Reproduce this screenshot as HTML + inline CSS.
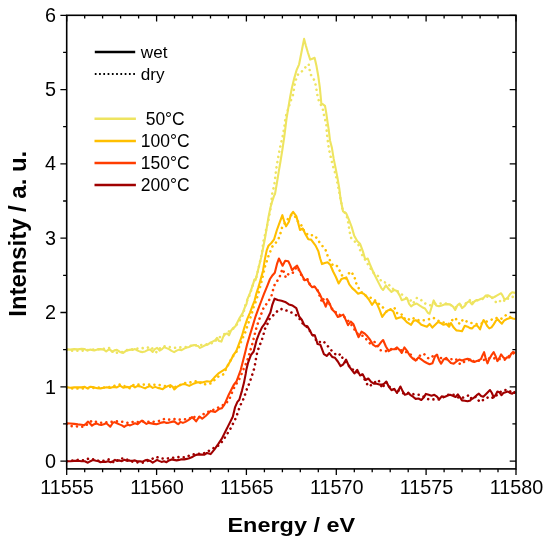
<!DOCTYPE html>
<html><head><meta charset="utf-8"><title>Energy / eV</title>
<style>html,body{margin:0;padding:0;background:#fff;width:550px;height:540px;overflow:hidden}svg{display:block}</style></head>
<body>
<svg width="550" height="540" viewBox="0 0 550 540">
<rect width="550" height="540" fill="#fff"/>
<polyline points="67.1,349.4 70.3,349.6 74.1,349.1 77.9,349.4 81.6,348.9 84.8,349.1 87.3,350.6 90.4,349.6 94.2,350.4 97.4,349.4 100.5,349.1 103.7,349.6 106.2,351.4 109.3,349.1 112.5,351.9 114.4,350.4 116.9,349.9 120.0,351.9 123.2,352.9 126.3,350.6 129.5,349.9 131.3,349.6 132.5,349.9 135.0,349.1 137.6,350.6 140.1,351.6 142.6,352.1 145.1,351.4 147.6,350.1 150.2,349.4 152.7,351.9 154.9,349.1 157.1,347.9 159.6,350.6 162.1,349.1 164.0,347.1 166.5,348.1 169.0,349.1 171.6,350.9 174.1,352.1 176.6,350.6 179.1,349.6 181.6,350.1 184.2,348.6 186.7,347.6 189.2,346.9 191.7,345.6 194.2,345.1 196.8,345.8 198.1,346.1 200.0,347.9 202.6,346.6 205.1,345.3 207.6,344.7 210.1,342.8 212.6,341.6 215.2,340.3 217.0,337.8 218.9,340.9 221.4,341.6 223.3,336.5 225.2,334.0 227.1,333.4 229.0,335.3 230.9,330.9 232.8,328.3 235.3,326.4 237.2,322.7 239.1,318.9 241.0,315.7 242.9,312.6 244.7,307.6 246.6,303.8 247.2,299.6 250.0,293.1 252.8,284.8 254.6,279.3 255.6,280.0 258.3,268.9 261.1,257.8 263.0,248.5 264.8,239.3 266.7,228.1 268.5,217.0 270.4,207.8 272.2,201.3 274.1,195.7 275.0,194.1 276.9,183.0 278.7,171.9 280.6,160.7 282.4,149.6 284.3,136.7 286.5,118.9 288.3,107.8 290.2,96.7 292.0,87.4 294.3,78.1 296.7,69.8 299.1,64.3 300.4,57.8 302.2,48.5 304.1,38.9 305.9,45.7 307.8,52.2 310.2,59.6 312.4,58.7 314.6,57.8 316.5,66.1 318.3,76.3 319.8,87.4 321.3,103.1 325.0,105.9 326.3,113.3 327.6,122.6 328.7,129.3 330.0,140.4 331.9,147.8 333.7,158.9 335.6,168.1 337.4,177.4 339.3,188.5 340.6,199.3 343.0,211.3 346.1,213.1 348.9,219.6 351.7,227.0 354.1,235.4 357.2,240.9 360.0,243.7 362.8,251.1 365.2,259.4 367.8,258.5 370.2,265.0 373.0,271.5 375.7,277.0 378.5,282.6 381.3,288.1 383.1,290.0 385.9,285.4 388.7,289.1 391.5,291.9 394.3,290.0 397.0,290.9 399.8,295.6 401.7,300.2 404.4,299.3 407.2,298.3 409.1,303.9 411.1,306.3 413.9,304.4 416.7,303.5 419.4,305.4 422.2,307.2 425.0,308.5 427.8,312.8 429.6,313.7 431.9,306.3 433.7,300.4 436.1,305.4 438.9,306.3 441.7,305.4 444.4,304.4 447.2,304.1 450.0,304.4 452.8,306.3 455.2,310.0 457.4,305.4 459.6,303.5 462.0,308.1 464.8,305.9 467.0,302.6 469.4,301.1 470.7,303.0 472.2,304.4 474.4,301.5 476.7,300.0 478.9,299.7 481.1,298.8 483.3,298.2 485.6,295.6 487.8,295.3 490.0,296.3 492.2,297.8 494.4,297.0 496.7,295.6 498.9,294.4 501.1,293.3 502.6,295.6 504.4,299.3 506.3,298.8 508.2,297.0 510.0,294.1 512.2,292.3 515.2,292.9" fill="none" stroke="#EEE460" stroke-width="2.1" stroke-linejoin="round"/>
<polyline points="67.1,349.6 69.7,350.9 75.3,350.6 79.7,350.9 89.2,349.9 101.8,349.1 110.0,347.9 113.7,353.2 121.9,352.1 130.1,348.9 132.5,349.4 138.8,348.4 147.0,347.9 150.2,346.6 156.4,352.1 160.2,347.9 164.0,346.1 174.1,347.9 179.7,347.4 186.7,347.1 193.0,345.1 198.8,345.3 203.8,344.7 208.9,343.8 213.9,342.8 217.7,338.4 220.8,336.5 225.9,333.0 231.5,330.2 235.3,326.7 239.1,321.4 242.9,315.1 245.4,305.0 247.6,299.6 250.4,293.1 252.8,285.2 254.6,279.6 255.7,280.0 258.3,269.3 260.9,257.8 262.6,248.9 263.0,243.0 264.8,235.6 266.7,227.2 268.5,219.8 270.4,209.6 271.3,202.2 272.2,193.9 273.5,188.3 274.6,182.8 276.3,168.5 278.1,158.0 280.0,147.8 282.4,137.6 284.3,127.4 285.6,117.0 287.4,111.5 290.2,102.2 293.0,94.8 293.9,89.3 294.8,83.7 296.7,77.2 298.5,73.5 301.3,71.7 304.1,69.8 306.5,65.2 308.7,64.3 309.6,69.8 310.6,74.4 313.3,78.1 315.2,82.8 316.1,87.4 317.0,93.0 318.0,98.5 319.8,103.1 322.6,107.8 323.5,113.3 325.0,118.9 326.3,124.4 326.9,133.9 327.6,138.5 328.1,144.1 329.1,149.6 330.0,154.3 331.3,158.9 332.4,164.4 334.3,170.0 335.6,174.6 336.9,180.2 343.0,211.7 346.1,213.5 348.0,221.5 348.9,227.0 349.8,232.6 350.7,237.2 352.6,240.0 358.1,243.7 359.6,248.3 360.9,253.0 365.6,260.4 373.0,272.4 379.4,277.0 381.3,281.7 385.9,282.6 388.7,284.4 391.5,288.1 397.0,290.9 403.5,295.6 408.1,299.3 411.1,300.7 413.0,303.5 416.7,298.0 420.4,298.9 423.1,302.6 429.6,305.4 437.0,303.5 447.2,303.5 455.6,307.2 465.7,303.5 470.4,299.8 471.5,303.0 475.9,300.7 481.9,299.3 487.8,296.3 492.2,297.8 496.7,303.0 499.6,301.5 501.9,299.3 505.6,301.5 508.5,297.8 512.2,297.0 515.2,296.3" fill="none" stroke="#EEE460" stroke-width="2.6" stroke-dasharray="0.01 5.3" stroke-linecap="round" stroke-linejoin="round"/>
<polyline points="67.1,387.2 70.3,387.7 74.1,387.4 77.9,387.2 81.6,387.4 84.8,386.9 87.3,388.4 90.4,386.7 94.2,387.4 97.4,388.2 100.5,388.4 103.7,387.7 106.8,387.2 110.0,387.9 113.1,386.9 116.9,387.4 120.0,385.6 123.2,387.7 126.3,386.9 129.5,387.4 131.3,386.1 132.5,385.6 135.0,387.4 137.6,385.9 140.1,386.4 142.6,387.4 145.1,388.4 147.6,386.9 150.2,386.1 152.7,387.9 155.2,386.9 157.7,387.9 160.2,388.4 162.7,389.2 165.3,387.2 167.8,386.1 170.3,385.1 172.8,386.9 174.3,389.4 176.6,387.2 179.1,385.6 181.6,384.6 184.2,383.9 186.7,384.9 189.2,385.9 191.7,384.6 194.2,383.4 196.8,382.4 202.2,382.4 206.9,381.3 210.6,381.7 214.3,377.6 218.9,373.1 223.5,370.2 225.9,368.5 227.8,365.4 230.6,360.7 233.3,355.2 236.1,351.5 238.9,344.1 241.7,336.7 244.4,327.4 247.2,319.1 250.0,312.6 252.8,305.2 254.6,300.6 256.5,293.1 258.3,287.6 260.2,281.1 262.0,274.6 263.0,270.7 264.8,259.6 266.7,250.4 268.5,245.7 271.3,243.0 274.1,239.3 276.9,230.0 279.6,222.6 282.4,215.2 284.3,221.7 286.1,226.3 288.9,221.7 290.7,215.2 293.1,211.9 296.3,216.1 298.1,222.6 300.0,230.0 302.8,228.5 305.6,234.6 308.3,239.3 311.1,239.6 312.8,241.9 315.6,245.6 318.3,251.1 320.2,258.5 322.0,264.1 324.8,263.1 327.6,262.2 330.4,265.0 333.1,271.5 335.9,277.0 338.7,283.5 341.5,278.9 344.3,278.0 347.0,278.9 349.3,284.4 352.2,288.1 355.4,290.9 358.1,293.7 360.9,292.8 363.7,293.7 366.5,296.5 369.3,300.2 372.0,304.8 374.8,301.1 377.0,303.9 379.4,309.4 382.2,316.9 385.0,313.1 387.8,310.4 390.6,309.4 393.3,311.3 396.1,318.7 398.9,317.8 401.7,316.9 404.4,319.6 407.2,322.4 411.1,324.8 413.3,321.1 415.7,320.2 418.5,322.0 421.3,324.8 424.1,325.7 426.9,326.7 429.6,323.9 432.4,327.6 435.2,324.8 438.0,322.0 440.7,323.0 443.5,324.8 446.3,323.9 449.1,326.7 450.9,323.0 453.7,327.6 456.5,330.4 459.3,330.7 462.0,331.3 464.8,325.7 467.6,326.7 470.0,328.1 472.2,328.4 474.4,325.9 476.7,325.2 478.1,326.7 480.1,329.3 481.9,323.7 483.6,320.0 485.6,323.0 487.5,326.4 489.3,328.4 491.5,327.4 493.7,324.4 495.9,320.7 497.9,319.3 499.6,321.5 501.9,323.7 504.1,320.7 506.3,319.3 508.5,318.5 510.7,317.8 513.0,318.5 515.2,319.0" fill="none" stroke="#FFBF00" stroke-width="2.1" stroke-linejoin="round"/>
<polyline points="67.1,387.4 69.7,388.4 75.3,388.7 79.7,388.4 84.2,388.4 95.5,387.7 108.1,387.4 120.0,384.4 130.1,388.4 133.8,384.6 138.8,384.6 148.3,384.6 159.0,384.9 163.4,385.9 174.1,387.4 185.4,382.9 193.0,382.1 197.4,380.9 203.1,384.6 210.6,383.5 218.9,376.1 223.5,374.3 226.9,367.2 232.4,357.0 238.0,349.6 241.7,340.4 245.4,332.0 248.1,323.7 250.9,316.3 253.7,307.0 256.5,299.6 259.3,290.4 261.1,283.0 263.0,275.6 264.8,267.0 266.7,261.5 268.5,255.9 270.4,251.3 272.2,246.7 275.0,243.9 278.7,238.3 280.6,232.8 282.4,226.3 285.2,222.6 288.0,218.9 289.8,216.1 292.6,214.3 295.4,217.0 298.1,221.7 300.9,224.4 303.7,230.0 306.5,233.7 309.3,235.6 312.0,235.2 314.8,235.6 317.6,239.3 320.4,243.9 323.1,246.7 325.7,250.2 327.6,255.7 330.0,260.4 333.1,265.9 336.9,265.9 339.6,270.6 342.4,276.1 346.1,278.0 348.0,274.3 350.7,271.5 354.4,276.1 355.4,281.7 357.8,286.3 360.0,290.9 365.6,295.6 369.3,297.4 373.0,298.3 376.7,302.0 383.1,307.6 386.9,312.2 391.5,308.5 394.3,307.6 397.0,313.1 400.7,313.1 404.4,318.7 405.6,317.4 410.2,320.2 413.9,318.3 418.5,320.2 424.1,320.2 428.7,319.3 433.3,317.8 438.9,321.1 445.4,323.0 449.1,323.9 453.7,318.3 455.6,318.3 458.3,323.0 460.2,323.9 463.0,319.3 469.4,323.0 471.5,323.0 474.4,323.7 478.9,324.4 484.8,322.2 490.7,320.0 495.9,317.8 500.4,319.3 504.8,316.3 506.3,314.8 510.0,317.0 515.2,318.1" fill="none" stroke="#FFBF00" stroke-width="2.6" stroke-dasharray="0.01 5.3" stroke-linecap="round" stroke-linejoin="round"/>
<polyline points="67.1,423.2 70.3,423.5 74.1,423.9 77.9,424.4 81.6,424.7 84.2,425.2 86.0,423.8 87.9,421.6 89.8,423.2 92.0,425.7 94.2,424.2 96.5,423.4 98.6,424.4 101.2,425.0 103.7,424.2 106.2,423.2 108.1,424.7 110.3,426.7 112.5,423.2 114.4,422.1 116.9,423.2 119.4,424.4 121.9,425.4 124.2,426.9 126.3,425.4 128.2,424.7 130.1,425.4 131.3,424.9 132.5,424.4 135.0,423.2 137.6,424.2 140.1,421.9 142.0,420.6 143.9,422.1 146.4,423.9 148.9,422.9 151.4,423.4 153.9,423.9 156.4,424.2 159.0,423.4 161.5,422.6 164.0,422.1 166.5,422.9 169.0,422.6 171.6,421.9 174.1,421.4 176.6,423.2 178.5,424.2 180.4,421.9 182.9,422.9 185.4,421.9 187.9,420.4 189.8,419.1 192.0,417.1 194.2,419.1 196.1,421.4 199.4,416.5 202.2,418.7 205.9,415.7 210.6,410.9 215.2,412.0 218.9,409.1 221.7,408.3 224.4,404.6 228.1,396.1 230.9,390.6 233.7,385.0 236.5,381.3 240.7,370.0 243.5,358.9 245.4,351.5 247.2,344.1 250.0,334.8 252.8,325.6 255.6,316.3 258.3,308.9 261.1,301.5 263.9,294.1 267.5,285.3 270.0,279.0 272.6,275.2 274.8,272.7 277.0,263.9 278.9,258.6 280.7,262.0 282.6,265.7 285.2,260.7 288.3,261.3 290.2,265.1 292.1,270.2 294.6,267.6 297.1,265.7 299.6,270.8 302.2,275.8 304.7,280.2 307.2,279.6 309.7,284.6 312.2,287.2 314.7,286.5 317.3,290.3 319.8,294.1 322.3,299.7 324.2,302.9 325.7,306.7 328.0,300.4 329.9,304.2 331.8,309.2 332.2,309.4 335.0,312.2 337.8,316.9 340.6,315.9 343.3,314.6 346.1,320.6 348.0,325.2 350.7,321.5 353.5,324.3 356.3,331.7 358.5,337.2 361.5,331.7 364.6,333.5 367.4,336.3 370.2,340.0 373.0,344.6 375.7,346.5 378.5,345.6 381.3,341.9 383.1,340.0 385.9,346.5 388.7,351.1 391.5,349.3 394.3,349.3 397.0,347.4 399.8,350.2 401.7,353.0 404.4,347.4 407.2,351.1 408.3,353.1 410.2,355.9 413.0,358.7 415.7,360.6 418.5,357.4 421.3,359.3 424.1,361.5 426.9,363.0 429.6,364.3 432.4,363.3 435.2,355.9 437.0,355.0 439.3,360.6 441.1,363.7 443.5,359.6 446.3,357.8 448.5,360.6 450.9,363.0 453.7,363.7 456.5,361.5 459.3,359.6 462.0,360.6 464.8,359.6 467.6,358.7 470.4,359.6 471.2,360.8 472.2,361.4 474.4,361.9 476.7,361.1 478.9,360.4 481.1,358.9 482.6,355.2 484.1,352.2 485.6,358.1 487.5,363.3 489.3,358.9 491.5,355.2 493.7,352.2 495.5,355.9 497.4,361.1 499.3,358.1 501.1,354.4 503.3,357.4 505.3,358.9 507.0,357.4 509.3,357.4 511.2,353.7 513.0,351.9 515.2,353.0" fill="none" stroke="#FF3D00" stroke-width="2.1" stroke-linejoin="round"/>
<polyline points="67.1,423.8 69.7,425.9 72.8,426.2 76.0,426.4 79.7,426.7 84.2,426.7 92.0,420.6 98.0,422.5 103.0,422.9 108.1,422.1 113.1,421.6 118.2,421.3 123.2,421.9 128.2,422.9 131.9,421.9 135.7,422.4 142.6,421.4 151.4,422.1 159.0,420.9 164.0,419.1 169.0,419.6 174.1,419.1 179.1,419.6 184.2,419.4 189.2,418.9 192.3,416.1 196.8,418.1 198.5,417.6 205.0,413.1 215.2,409.1 225.4,403.9 229.1,399.8 232.8,390.6 235.6,384.6 238.3,381.3 241.7,373.7 244.4,367.2 247.2,360.7 250.0,351.5 252.8,342.2 254.6,334.8 256.5,327.4 258.3,321.9 261.1,314.4 263.9,307.0 265.0,306.0 268.1,301.6 271.3,296.6 272.6,291.6 273.8,287.2 275.3,283.0 278.9,279.0 280.7,273.9 282.4,268.9 284.5,273.3 285.8,277.7 288.9,273.3 292.7,272.9 295.9,268.3 297.5,267.0 300.3,273.3 304.0,279.6 307.2,278.0 308.5,283.0 312.9,286.3 316.6,288.2 318.5,292.2 320.4,298.5 322.3,302.3 324.2,297.6 327.0,299.4 329.2,303.5 331.8,308.6 334.1,309.4 336.9,314.1 343.3,315.9 349.8,322.4 357.2,333.5 363.7,336.3 370.2,343.7 374.8,341.9 380.4,350.2 385.9,351.1 393.3,348.3 404.4,351.1 410.2,354.1 413.0,356.9 414.8,361.5 421.3,354.1 424.1,354.1 428.7,358.7 436.1,354.1 439.8,357.8 448.1,359.6 455.6,358.7 460.2,364.3 464.8,361.5 470.4,359.6 471.5,361.1 476.7,360.8 482.6,360.4 486.3,358.9 492.2,358.1 498.1,358.9 504.8,359.6 510.0,355.2 515.2,352.2" fill="none" stroke="#FF3D00" stroke-width="2.6" stroke-dasharray="0.01 5.3" stroke-linecap="round" stroke-linejoin="round"/>
<polyline points="67.1,461.2 70.3,461.2 74.1,460.9 77.9,460.7 81.6,461.2 84.8,461.2 87.9,462.7 90.4,461.2 93.2,459.9 96.1,460.7 98.6,461.2 100.5,462.2 103.0,461.7 105.6,461.9 108.1,461.2 110.6,462.2 113.1,461.2 115.0,459.9 116.9,460.9 119.4,460.4 121.9,461.2 124.5,459.7 127.0,460.9 129.5,460.4 131.3,460.9 132.5,460.7 135.0,460.4 137.6,461.4 140.1,461.2 142.6,461.7 145.1,460.4 147.6,459.9 150.2,460.9 152.7,462.7 155.2,461.2 157.1,459.9 159.0,460.9 161.5,461.9 164.0,461.2 166.5,462.2 169.0,460.4 171.6,459.4 174.1,459.9 176.6,460.4 179.1,459.9 181.6,459.2 184.2,459.4 186.7,458.9 189.2,458.2 191.7,457.2 194.2,455.9 196.1,454.9 199.4,454.4 204.1,454.8 206.9,453.0 210.6,454.1 214.3,449.6 218.0,444.4 221.7,438.9 225.4,431.5 229.1,424.1 232.8,416.7 235.0,407.4 237.4,401.9 239.3,399.8 242.0,390.6 243.9,383.1 245.7,373.9 246.3,370.0 248.1,362.6 250.9,355.2 253.7,351.5 256.5,340.4 259.3,333.0 262.0,327.4 264.8,323.7 267.6,318.1 270.4,312.6 272.2,305.2 274.6,298.7 277.8,300.0 281.5,300.7 285.2,301.9 288.9,304.4 292.6,305.6 296.3,308.1 299.1,316.3 301.9,320.0 304.6,325.6 307.4,326.3 310.2,331.1 312.0,334.8 314.8,335.2 317.6,344.1 320.4,344.8 321.1,346.7 323.9,354.1 326.7,355.9 329.4,353.1 332.2,356.9 335.0,357.8 337.8,361.5 340.6,366.1 343.3,364.3 346.1,359.6 348.9,366.1 351.7,369.8 354.4,373.5 357.2,369.8 360.0,375.4 362.8,374.4 365.6,380.0 368.3,378.5 371.1,381.9 373.9,383.7 376.7,383.7 379.4,384.6 382.2,384.6 384.1,383.7 386.3,381.5 388.7,386.5 391.5,390.2 394.3,388.9 397.0,393.0 400.4,386.5 402.6,391.1 404.8,394.8 407.2,393.9 408.3,392.6 410.2,394.8 413.0,396.7 415.7,398.9 418.5,398.5 421.3,400.0 423.7,397.6 425.9,393.9 428.7,394.8 431.5,395.7 434.3,394.8 437.0,396.7 439.3,399.4 441.7,396.3 444.4,397.0 447.2,395.7 450.0,394.8 452.8,395.7 455.6,397.0 457.8,394.4 460.2,397.6 462.0,400.4 464.8,400.7 467.6,401.3 470.4,400.4 471.2,399.3 472.2,398.9 474.4,397.4 476.7,395.2 478.9,393.7 481.1,395.9 483.3,396.7 485.6,394.4 487.8,392.2 490.0,390.0 491.9,393.0 493.7,397.4 495.5,395.2 497.4,391.5 499.3,392.2 501.4,395.2 503.3,393.0 505.6,392.2 507.8,391.5 510.0,393.0 512.2,393.7 515.2,391.5" fill="none" stroke="#A00000" stroke-width="2.1" stroke-linejoin="round"/>
<polyline points="67.1,461.2 77.9,459.9 83.5,460.4 89.2,458.4 100.5,461.2 104.3,460.7 108.7,459.4 114.4,462.7 119.4,458.7 123.2,458.4 128.2,459.9 132.5,461.7 137.6,462.4 142.6,462.7 148.9,460.4 156.4,456.9 160.9,458.4 165.9,458.7 175.3,457.4 180.4,456.9 185.4,457.4 190.5,454.9 195.5,453.9 198.5,453.7 203.1,453.7 207.8,451.5 212.4,448.5 216.1,447.2 219.8,444.4 223.5,439.8 226.3,435.2 230.0,429.6 232.8,424.1 235.6,418.5 238.0,412.0 239.8,406.5 242.0,401.9 243.9,398.0 246.7,389.6 249.4,383.1 251.3,377.6 254.6,367.2 255.6,360.7 257.4,351.5 260.2,344.1 263.0,336.7 264.8,329.3 267.6,323.7 269.4,319.1 272.2,316.3 275.0,313.5 278.7,309.8 282.4,308.9 287.0,310.7 291.7,312.6 296.3,315.4 299.1,318.1 302.8,323.7 307.4,327.4 312.0,333.9 317.6,342.2 320.2,341.9 323.0,340.9 326.7,344.6 329.4,348.3 332.2,351.1 335.0,353.9 337.8,355.7 340.6,353.9 342.4,357.8 345.2,361.5 351.7,368.9 356.3,371.7 361.9,374.4 367.4,384.6 369.3,386.5 373.9,382.8 378.5,380.0 382.2,388.3 385.9,381.9 391.5,389.3 396.1,389.3 404.4,393.9 407.4,393.0 416.7,394.8 420.4,394.8 428.7,399.4 438.9,399.4 448.1,394.8 453.7,394.8 460.2,398.5 465.7,396.7 469.4,394.8 471.5,398.9 475.9,396.7 479.6,401.9 484.1,399.6 489.3,396.7 493.7,398.1 498.9,393.0 504.1,390.0 508.5,390.0 513.0,393.7 515.2,392.2" fill="none" stroke="#A00000" stroke-width="2.6" stroke-dasharray="0.01 5.3" stroke-linecap="round" stroke-linejoin="round"/>
<rect x="66.7" y="15.3" width="449.3" height="453.6" fill="none" stroke="#000" stroke-width="1.6"/>
<path d="M66.7 468.9v6.1M66.7 15.3v6.1M84.7 468.9v3.3M84.7 15.3v3.3M102.6 468.9v3.3M102.6 15.3v3.3M120.6 468.9v3.3M120.6 15.3v3.3M138.6 468.9v3.3M138.6 15.3v3.3M156.6 468.9v6.1M156.6 15.3v6.1M174.5 468.9v3.3M174.5 15.3v3.3M192.5 468.9v3.3M192.5 15.3v3.3M210.5 468.9v3.3M210.5 15.3v3.3M228.4 468.9v3.3M228.4 15.3v3.3M246.4 468.9v6.1M246.4 15.3v6.1M264.4 468.9v3.3M264.4 15.3v3.3M282.4 468.9v3.3M282.4 15.3v3.3M300.3 468.9v3.3M300.3 15.3v3.3M318.3 468.9v3.3M318.3 15.3v3.3M336.3 468.9v6.1M336.3 15.3v6.1M354.3 468.9v3.3M354.3 15.3v3.3M372.2 468.9v3.3M372.2 15.3v3.3M390.2 468.9v3.3M390.2 15.3v3.3M408.2 468.9v3.3M408.2 15.3v3.3M426.1 468.9v6.1M426.1 15.3v6.1M444.1 468.9v3.3M444.1 15.3v3.3M462.1 468.9v3.3M462.1 15.3v3.3M480.1 468.9v3.3M480.1 15.3v3.3M498.0 468.9v3.3M498.0 15.3v3.3M516.0 468.9v6.1M516.0 15.3v6.1M66.7 461.1h-6.3M516.0 461.1h-6.3M66.7 423.9h-3.6M516.0 423.9h-3.6M66.7 386.8h-6.3M516.0 386.8h-6.3M66.7 349.6h-3.6M516.0 349.6h-3.6M66.7 312.5h-6.3M516.0 312.5h-6.3M66.7 275.3h-3.6M516.0 275.3h-3.6M66.7 238.2h-6.3M516.0 238.2h-6.3M66.7 201.0h-3.6M516.0 201.0h-3.6M66.7 163.9h-6.3M516.0 163.9h-6.3M66.7 126.7h-3.6M516.0 126.7h-3.6M66.7 89.6h-6.3M516.0 89.6h-6.3M66.7 52.4h-3.6M516.0 52.4h-3.6M66.7 15.3h-6.3M516.0 15.3h-6.3" stroke="#000" stroke-width="1.3" fill="none"/>
<g font-family="'Liberation Sans', Arial, sans-serif" font-size="19.8" fill="#000">
<text x="67.1" y="494.4" text-anchor="middle">11555</text>
<text x="157.0" y="494.4" text-anchor="middle">11560</text>
<text x="246.8" y="494.4" text-anchor="middle">11565</text>
<text x="336.7" y="494.4" text-anchor="middle">11570</text>
<text x="426.5" y="494.4" text-anchor="middle">11575</text>
<text x="516.4" y="494.4" text-anchor="middle">11580</text>
<text x="56" y="467.9" text-anchor="end">0</text>
<text x="56" y="393.5" text-anchor="end">1</text>
<text x="56" y="319.2" text-anchor="end">2</text>
<text x="56" y="244.8" text-anchor="end">3</text>
<text x="56" y="170.4" text-anchor="end">4</text>
<text x="56" y="96.0" text-anchor="end">5</text>
<text x="56" y="21.6" text-anchor="end">6</text>
</g>
<g font-family="'Liberation Sans', Arial, sans-serif" font-size="17.2" fill="#000">
<line x1="94.8" x2="135.2" y1="52.0" y2="52.0" stroke="#000" stroke-width="2.4"/>
<text x="140.8" y="57.6" font-size="17.1" xml:space="preserve">wet</text>
<line x1="94.8" x2="135.2" y1="74.0" y2="74.0" stroke="#000" stroke-width="2" stroke-dasharray="1.7 2.57"/>
<text x="140.8" y="79.6" font-size="17.1" xml:space="preserve">dry</text>
<line x1="94.5" x2="135.9" y1="118.8" y2="118.8" stroke="#EEE460" stroke-width="2.4"/>
<text x="140.8" y="124.6" font-size="17.5" xml:space="preserve"> 50°C</text>
<line x1="94.5" x2="135.9" y1="141.0" y2="141.0" stroke="#FFBF00" stroke-width="2.4"/>
<text x="140.8" y="146.8" font-size="17.5" xml:space="preserve">100°C</text>
<line x1="94.5" x2="135.9" y1="163.0" y2="163.0" stroke="#FF3D00" stroke-width="2.4"/>
<text x="140.8" y="168.8" font-size="17.5" xml:space="preserve">150°C</text>
<line x1="94.5" x2="135.9" y1="185.0" y2="185.0" stroke="#A00000" stroke-width="2.4"/>
<text x="140.8" y="190.8" font-size="17.5" xml:space="preserve">200°C</text>
</g>
<g font-family="'Liberation Sans', Arial, sans-serif" font-weight="bold" fill="#000">
<text transform="translate(291.3 531.8) scale(1.19 1)" font-size="19.7" text-anchor="middle">Energy / eV</text>
<text transform="translate(25.5 233.8) rotate(-90) scale(1.012 1)" font-size="23.6" text-anchor="middle">Intensity / a. u.</text>
</g>
</svg>
</body></html>
